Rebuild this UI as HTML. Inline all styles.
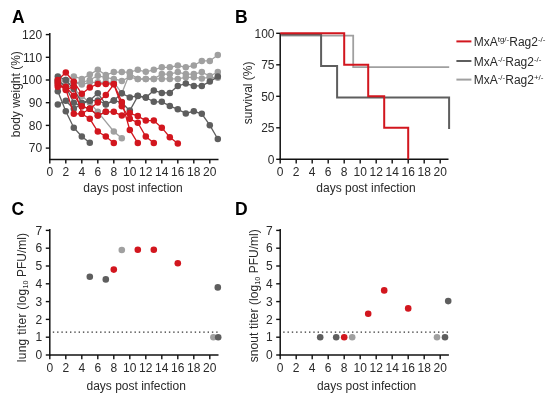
<!DOCTYPE html>
<html><head><meta charset="utf-8"><style>
html,body{margin:0;padding:0;background:#fff;width:550px;height:399px;overflow:hidden}
svg{display:block;font-family:"Liberation Sans",sans-serif;will-change:transform}
</style></head><body>
<svg width="550" height="399" viewBox="0 0 550 399">
<rect width="550" height="399" fill="#fff"/>
<line x1="49.8" y1="33.0" x2="49.8" y2="159.9" stroke="#111" stroke-width="1.5"/>
<line x1="49.05" y1="159.4" x2="218.5" y2="159.4" stroke="#111" stroke-width="1.5"/>
<line x1="45.8" y1="148.1" x2="49.8" y2="148.1" stroke="#111" stroke-width="1.4"/>
<text x="42.1" y="152.29999999999998" text-anchor="end" font-size="12" font-weight="normal" fill="#2a2a2a" >70</text>
<line x1="45.8" y1="125.4" x2="49.8" y2="125.4" stroke="#111" stroke-width="1.4"/>
<text x="42.1" y="129.6" text-anchor="end" font-size="12" font-weight="normal" fill="#2a2a2a" >80</text>
<line x1="45.8" y1="102.7" x2="49.8" y2="102.7" stroke="#111" stroke-width="1.4"/>
<text x="42.1" y="106.9" text-anchor="end" font-size="12" font-weight="normal" fill="#2a2a2a" >90</text>
<line x1="45.8" y1="80.0" x2="49.8" y2="80.0" stroke="#111" stroke-width="1.4"/>
<text x="42.1" y="84.2" text-anchor="end" font-size="12" font-weight="normal" fill="#2a2a2a" >100</text>
<line x1="45.8" y1="57.3" x2="49.8" y2="57.3" stroke="#111" stroke-width="1.4"/>
<text x="42.1" y="61.5" text-anchor="end" font-size="12" font-weight="normal" fill="#2a2a2a" >110</text>
<line x1="45.8" y1="34.6" x2="49.8" y2="34.6" stroke="#111" stroke-width="1.4"/>
<text x="42.1" y="38.800000000000004" text-anchor="end" font-size="12" font-weight="normal" fill="#2a2a2a" >120</text>
<line x1="49.8" y1="159.2" x2="49.8" y2="163.4" stroke="#111" stroke-width="1.4"/>
<text x="49.8" y="175.9" text-anchor="middle" font-size="12" font-weight="normal" fill="#2a2a2a" >0</text>
<line x1="65.8" y1="159.2" x2="65.8" y2="163.4" stroke="#111" stroke-width="1.4"/>
<text x="65.8" y="175.9" text-anchor="middle" font-size="12" font-weight="normal" fill="#2a2a2a" >2</text>
<line x1="81.8" y1="159.2" x2="81.8" y2="163.4" stroke="#111" stroke-width="1.4"/>
<text x="81.8" y="175.9" text-anchor="middle" font-size="12" font-weight="normal" fill="#2a2a2a" >4</text>
<line x1="97.8" y1="159.2" x2="97.8" y2="163.4" stroke="#111" stroke-width="1.4"/>
<text x="97.8" y="175.9" text-anchor="middle" font-size="12" font-weight="normal" fill="#2a2a2a" >6</text>
<line x1="113.8" y1="159.2" x2="113.8" y2="163.4" stroke="#111" stroke-width="1.4"/>
<text x="113.8" y="175.9" text-anchor="middle" font-size="12" font-weight="normal" fill="#2a2a2a" >8</text>
<line x1="129.8" y1="159.2" x2="129.8" y2="163.4" stroke="#111" stroke-width="1.4"/>
<text x="129.8" y="175.9" text-anchor="middle" font-size="12" font-weight="normal" fill="#2a2a2a" >10</text>
<line x1="145.8" y1="159.2" x2="145.8" y2="163.4" stroke="#111" stroke-width="1.4"/>
<text x="145.8" y="175.9" text-anchor="middle" font-size="12" font-weight="normal" fill="#2a2a2a" >12</text>
<line x1="161.8" y1="159.2" x2="161.8" y2="163.4" stroke="#111" stroke-width="1.4"/>
<text x="161.8" y="175.9" text-anchor="middle" font-size="12" font-weight="normal" fill="#2a2a2a" >14</text>
<line x1="177.8" y1="159.2" x2="177.8" y2="163.4" stroke="#111" stroke-width="1.4"/>
<text x="177.8" y="175.9" text-anchor="middle" font-size="12" font-weight="normal" fill="#2a2a2a" >16</text>
<line x1="193.8" y1="159.2" x2="193.8" y2="163.4" stroke="#111" stroke-width="1.4"/>
<text x="193.8" y="175.9" text-anchor="middle" font-size="12" font-weight="normal" fill="#2a2a2a" >18</text>
<line x1="209.8" y1="159.2" x2="209.8" y2="163.4" stroke="#111" stroke-width="1.4"/>
<text x="209.8" y="175.9" text-anchor="middle" font-size="12" font-weight="normal" fill="#2a2a2a" >20</text>
<text x="133.0" y="192.2" text-anchor="middle" font-size="12" font-weight="normal" fill="#2a2a2a" >days post infection</text>
<text x="19.8" y="137.2" text-anchor="start" font-size="12" font-weight="normal" fill="#2a2a2a" transform="rotate(-90 19.8 137.2)">body weight (%)</text>
<text x="12.0" y="22.9" text-anchor="start" font-size="17.5" font-weight="bold" fill="#000" >A</text>
<polyline points="57.8,82.3 65.8,81.1 73.8,76.4 81.8,78.9 89.8,74.6 97.8,69.8 105.8,75.0 113.8,72.1 121.8,72.1 129.8,72.1 137.8,69.8 145.8,71.8 153.8,69.8 161.8,67.3 169.8,67.3 177.8,65.5 185.8,67.3 193.8,65.5 201.8,60.9 209.8,60.9 217.8,55.0" fill="none" stroke="#a0a0a0" stroke-width="1.3"/>
<circle cx="57.8" cy="82.3" r="3.25" fill="#a0a0a0"/>
<circle cx="65.8" cy="81.1" r="3.25" fill="#a0a0a0"/>
<circle cx="73.8" cy="76.4" r="3.25" fill="#a0a0a0"/>
<circle cx="81.8" cy="78.9" r="3.25" fill="#a0a0a0"/>
<circle cx="89.8" cy="74.6" r="3.25" fill="#a0a0a0"/>
<circle cx="97.8" cy="69.8" r="3.25" fill="#a0a0a0"/>
<circle cx="105.8" cy="75.0" r="3.25" fill="#a0a0a0"/>
<circle cx="113.8" cy="72.1" r="3.25" fill="#a0a0a0"/>
<circle cx="121.8" cy="72.1" r="3.25" fill="#a0a0a0"/>
<circle cx="129.8" cy="72.1" r="3.25" fill="#a0a0a0"/>
<circle cx="137.8" cy="69.8" r="3.25" fill="#a0a0a0"/>
<circle cx="145.8" cy="71.8" r="3.25" fill="#a0a0a0"/>
<circle cx="153.8" cy="69.8" r="3.25" fill="#a0a0a0"/>
<circle cx="161.8" cy="67.3" r="3.25" fill="#a0a0a0"/>
<circle cx="169.8" cy="67.3" r="3.25" fill="#a0a0a0"/>
<circle cx="177.8" cy="65.5" r="3.25" fill="#a0a0a0"/>
<circle cx="185.8" cy="67.3" r="3.25" fill="#a0a0a0"/>
<circle cx="193.8" cy="65.5" r="3.25" fill="#a0a0a0"/>
<circle cx="201.8" cy="60.9" r="3.25" fill="#a0a0a0"/>
<circle cx="209.8" cy="60.9" r="3.25" fill="#a0a0a0"/>
<circle cx="217.8" cy="55.0" r="3.25" fill="#a0a0a0"/>
<polyline points="57.8,80.0 65.8,80.0 73.8,82.3 81.8,82.3 89.8,80.0 97.8,75.7 105.8,77.7 113.8,78.9 121.8,80.9 129.8,77.0 137.8,79.1 145.8,78.9 153.8,78.9 161.8,74.1 169.8,74.1 177.8,72.1 185.8,74.1 193.8,74.1 201.8,72.1 209.8,76.1 217.8,72.1" fill="none" stroke="#a0a0a0" stroke-width="1.3"/>
<circle cx="57.8" cy="80.0" r="3.25" fill="#a0a0a0"/>
<circle cx="65.8" cy="80.0" r="3.25" fill="#a0a0a0"/>
<circle cx="73.8" cy="82.3" r="3.25" fill="#a0a0a0"/>
<circle cx="81.8" cy="82.3" r="3.25" fill="#a0a0a0"/>
<circle cx="89.8" cy="80.0" r="3.25" fill="#a0a0a0"/>
<circle cx="97.8" cy="75.7" r="3.25" fill="#a0a0a0"/>
<circle cx="105.8" cy="77.7" r="3.25" fill="#a0a0a0"/>
<circle cx="113.8" cy="78.9" r="3.25" fill="#a0a0a0"/>
<circle cx="121.8" cy="80.9" r="3.25" fill="#a0a0a0"/>
<circle cx="129.8" cy="77.0" r="3.25" fill="#a0a0a0"/>
<circle cx="137.8" cy="79.1" r="3.25" fill="#a0a0a0"/>
<circle cx="145.8" cy="78.9" r="3.25" fill="#a0a0a0"/>
<circle cx="153.8" cy="78.9" r="3.25" fill="#a0a0a0"/>
<circle cx="161.8" cy="74.1" r="3.25" fill="#a0a0a0"/>
<circle cx="169.8" cy="74.1" r="3.25" fill="#a0a0a0"/>
<circle cx="177.8" cy="72.1" r="3.25" fill="#a0a0a0"/>
<circle cx="185.8" cy="74.1" r="3.25" fill="#a0a0a0"/>
<circle cx="193.8" cy="74.1" r="3.25" fill="#a0a0a0"/>
<circle cx="201.8" cy="72.1" r="3.25" fill="#a0a0a0"/>
<circle cx="209.8" cy="76.1" r="3.25" fill="#a0a0a0"/>
<circle cx="217.8" cy="72.1" r="3.25" fill="#a0a0a0"/>
<polyline points="57.8,84.5 65.8,84.5 73.8,82.3 81.8,84.5 89.8,82.3 97.8,82.3 105.8,82.3 113.8,82.3 121.8,93.2 129.8,73.2 137.8,79.1 145.8,78.9 153.8,78.9 161.8,78.9 169.8,78.9 177.8,78.9 185.8,77.3 193.8,77.3 201.8,78.4 209.8,77.3 217.8,77.7" fill="none" stroke="#a0a0a0" stroke-width="1.3"/>
<circle cx="57.8" cy="84.5" r="3.25" fill="#a0a0a0"/>
<circle cx="65.8" cy="84.5" r="3.25" fill="#a0a0a0"/>
<circle cx="73.8" cy="82.3" r="3.25" fill="#a0a0a0"/>
<circle cx="81.8" cy="84.5" r="3.25" fill="#a0a0a0"/>
<circle cx="89.8" cy="82.3" r="3.25" fill="#a0a0a0"/>
<circle cx="97.8" cy="82.3" r="3.25" fill="#a0a0a0"/>
<circle cx="105.8" cy="82.3" r="3.25" fill="#a0a0a0"/>
<circle cx="113.8" cy="82.3" r="3.25" fill="#a0a0a0"/>
<circle cx="121.8" cy="93.2" r="3.25" fill="#a0a0a0"/>
<circle cx="129.8" cy="73.2" r="3.25" fill="#a0a0a0"/>
<circle cx="137.8" cy="79.1" r="3.25" fill="#a0a0a0"/>
<circle cx="145.8" cy="78.9" r="3.25" fill="#a0a0a0"/>
<circle cx="153.8" cy="78.9" r="3.25" fill="#a0a0a0"/>
<circle cx="161.8" cy="78.9" r="3.25" fill="#a0a0a0"/>
<circle cx="169.8" cy="78.9" r="3.25" fill="#a0a0a0"/>
<circle cx="177.8" cy="78.9" r="3.25" fill="#a0a0a0"/>
<circle cx="185.8" cy="77.3" r="3.25" fill="#a0a0a0"/>
<circle cx="193.8" cy="77.3" r="3.25" fill="#a0a0a0"/>
<circle cx="201.8" cy="78.4" r="3.25" fill="#a0a0a0"/>
<circle cx="209.8" cy="77.3" r="3.25" fill="#a0a0a0"/>
<circle cx="217.8" cy="77.7" r="3.25" fill="#a0a0a0"/>
<polyline points="57.8,82.3 65.8,84.5 73.8,89.1 81.8,95.9 89.8,102.7 97.8,111.8 113.8,131.5 121.8,138.3" fill="none" stroke="#a0a0a0" stroke-width="1.3"/>
<circle cx="57.8" cy="82.3" r="3.25" fill="#a0a0a0"/>
<circle cx="65.8" cy="84.5" r="3.25" fill="#a0a0a0"/>
<circle cx="73.8" cy="89.1" r="3.25" fill="#a0a0a0"/>
<circle cx="81.8" cy="95.9" r="3.25" fill="#a0a0a0"/>
<circle cx="89.8" cy="102.7" r="3.25" fill="#a0a0a0"/>
<circle cx="97.8" cy="111.8" r="3.25" fill="#a0a0a0"/>
<circle cx="113.8" cy="131.5" r="3.25" fill="#a0a0a0"/>
<circle cx="121.8" cy="138.3" r="3.25" fill="#a0a0a0"/>
<polyline points="57.8,76.4 65.8,80.0 73.8,89.1 81.8,102.7 89.8,100.4 97.8,93.2 105.8,104.5 113.8,100.4 121.8,93.2 129.8,97.5 137.8,95.7 145.8,97.5 153.8,90.4 161.8,92.9 169.8,92.9 177.8,85.9 185.8,83.6 193.8,85.9 201.8,85.9 209.8,81.6 217.8,76.6" fill="none" stroke="#5e5e5e" stroke-width="1.3"/>
<circle cx="57.8" cy="76.4" r="3.25" fill="#5e5e5e"/>
<circle cx="65.8" cy="80.0" r="3.25" fill="#5e5e5e"/>
<circle cx="73.8" cy="89.1" r="3.25" fill="#5e5e5e"/>
<circle cx="81.8" cy="102.7" r="3.25" fill="#5e5e5e"/>
<circle cx="89.8" cy="100.4" r="3.25" fill="#5e5e5e"/>
<circle cx="97.8" cy="93.2" r="3.25" fill="#5e5e5e"/>
<circle cx="105.8" cy="104.5" r="3.25" fill="#5e5e5e"/>
<circle cx="113.8" cy="100.4" r="3.25" fill="#5e5e5e"/>
<circle cx="121.8" cy="93.2" r="3.25" fill="#5e5e5e"/>
<circle cx="129.8" cy="97.5" r="3.25" fill="#5e5e5e"/>
<circle cx="137.8" cy="95.7" r="3.25" fill="#5e5e5e"/>
<circle cx="145.8" cy="97.5" r="3.25" fill="#5e5e5e"/>
<circle cx="153.8" cy="90.4" r="3.25" fill="#5e5e5e"/>
<circle cx="161.8" cy="92.9" r="3.25" fill="#5e5e5e"/>
<circle cx="169.8" cy="92.9" r="3.25" fill="#5e5e5e"/>
<circle cx="177.8" cy="85.9" r="3.25" fill="#5e5e5e"/>
<circle cx="185.8" cy="83.6" r="3.25" fill="#5e5e5e"/>
<circle cx="193.8" cy="85.9" r="3.25" fill="#5e5e5e"/>
<circle cx="201.8" cy="85.9" r="3.25" fill="#5e5e5e"/>
<circle cx="209.8" cy="81.6" r="3.25" fill="#5e5e5e"/>
<circle cx="217.8" cy="76.6" r="3.25" fill="#5e5e5e"/>
<polyline points="57.8,104.5 65.8,100.7 73.8,108.8 81.8,103.8 89.8,100.7 97.8,100.4 105.8,104.1 113.8,100.4 121.8,102.7 129.8,110.6 137.8,96.1 145.8,97.5 153.8,101.8 161.8,101.8 169.8,105.9 177.8,109.3 185.8,113.4 193.8,111.3 201.8,113.8 209.8,125.2 217.8,139.0" fill="none" stroke="#5e5e5e" stroke-width="1.3"/>
<circle cx="57.8" cy="104.5" r="3.25" fill="#5e5e5e"/>
<circle cx="65.8" cy="100.7" r="3.25" fill="#5e5e5e"/>
<circle cx="73.8" cy="108.8" r="3.25" fill="#5e5e5e"/>
<circle cx="81.8" cy="103.8" r="3.25" fill="#5e5e5e"/>
<circle cx="89.8" cy="100.7" r="3.25" fill="#5e5e5e"/>
<circle cx="97.8" cy="100.4" r="3.25" fill="#5e5e5e"/>
<circle cx="105.8" cy="104.1" r="3.25" fill="#5e5e5e"/>
<circle cx="113.8" cy="100.4" r="3.25" fill="#5e5e5e"/>
<circle cx="121.8" cy="102.7" r="3.25" fill="#5e5e5e"/>
<circle cx="129.8" cy="110.6" r="3.25" fill="#5e5e5e"/>
<circle cx="137.8" cy="96.1" r="3.25" fill="#5e5e5e"/>
<circle cx="145.8" cy="97.5" r="3.25" fill="#5e5e5e"/>
<circle cx="153.8" cy="101.8" r="3.25" fill="#5e5e5e"/>
<circle cx="161.8" cy="101.8" r="3.25" fill="#5e5e5e"/>
<circle cx="169.8" cy="105.9" r="3.25" fill="#5e5e5e"/>
<circle cx="177.8" cy="109.3" r="3.25" fill="#5e5e5e"/>
<circle cx="185.8" cy="113.4" r="3.25" fill="#5e5e5e"/>
<circle cx="193.8" cy="111.3" r="3.25" fill="#5e5e5e"/>
<circle cx="201.8" cy="113.8" r="3.25" fill="#5e5e5e"/>
<circle cx="209.8" cy="125.2" r="3.25" fill="#5e5e5e"/>
<circle cx="217.8" cy="139.0" r="3.25" fill="#5e5e5e"/>
<polyline points="57.8,91.3 65.8,111.3 73.8,127.7 81.8,136.5 89.8,142.7" fill="none" stroke="#5e5e5e" stroke-width="1.3"/>
<circle cx="57.8" cy="91.3" r="3.25" fill="#5e5e5e"/>
<circle cx="65.8" cy="111.3" r="3.25" fill="#5e5e5e"/>
<circle cx="73.8" cy="127.7" r="3.25" fill="#5e5e5e"/>
<circle cx="81.8" cy="136.5" r="3.25" fill="#5e5e5e"/>
<circle cx="89.8" cy="142.7" r="3.25" fill="#5e5e5e"/>
<polyline points="57.8,80.0 65.8,86.8 73.8,102.7 81.8,106.3 89.8,108.8 97.8,115.6 105.8,111.8" fill="none" stroke="#5e5e5e" stroke-width="1.3"/>
<circle cx="57.8" cy="80.0" r="3.25" fill="#5e5e5e"/>
<circle cx="65.8" cy="86.8" r="3.25" fill="#5e5e5e"/>
<circle cx="73.8" cy="102.7" r="3.25" fill="#5e5e5e"/>
<circle cx="81.8" cy="106.3" r="3.25" fill="#5e5e5e"/>
<circle cx="89.8" cy="108.8" r="3.25" fill="#5e5e5e"/>
<circle cx="97.8" cy="115.6" r="3.25" fill="#5e5e5e"/>
<circle cx="105.8" cy="111.8" r="3.25" fill="#5e5e5e"/>
<polyline points="57.8,84.5 65.8,89.1 73.8,113.8 81.8,113.8 89.8,118.8 97.8,131.5 105.8,136.5 113.8,143.1" fill="none" stroke="#d2161e" stroke-width="1.3"/>
<circle cx="57.8" cy="84.5" r="3.25" fill="#d2161e"/>
<circle cx="65.8" cy="89.1" r="3.25" fill="#d2161e"/>
<circle cx="73.8" cy="113.8" r="3.25" fill="#d2161e"/>
<circle cx="81.8" cy="113.8" r="3.25" fill="#d2161e"/>
<circle cx="89.8" cy="118.8" r="3.25" fill="#d2161e"/>
<circle cx="97.8" cy="131.5" r="3.25" fill="#d2161e"/>
<circle cx="105.8" cy="136.5" r="3.25" fill="#d2161e"/>
<circle cx="113.8" cy="143.1" r="3.25" fill="#d2161e"/>
<polyline points="57.8,80.0 65.8,72.5 73.8,81.8 81.8,93.8 89.8,87.5 97.8,83.9 105.8,83.9 113.8,83.9 121.8,102.0 129.8,129.9 137.8,143.1" fill="none" stroke="#d2161e" stroke-width="1.3"/>
<circle cx="57.8" cy="80.0" r="3.25" fill="#d2161e"/>
<circle cx="65.8" cy="72.5" r="3.25" fill="#d2161e"/>
<circle cx="73.8" cy="81.8" r="3.25" fill="#d2161e"/>
<circle cx="81.8" cy="93.8" r="3.25" fill="#d2161e"/>
<circle cx="89.8" cy="87.5" r="3.25" fill="#d2161e"/>
<circle cx="97.8" cy="83.9" r="3.25" fill="#d2161e"/>
<circle cx="105.8" cy="83.9" r="3.25" fill="#d2161e"/>
<circle cx="113.8" cy="83.9" r="3.25" fill="#d2161e"/>
<circle cx="121.8" cy="102.0" r="3.25" fill="#d2161e"/>
<circle cx="129.8" cy="129.9" r="3.25" fill="#d2161e"/>
<circle cx="137.8" cy="143.1" r="3.25" fill="#d2161e"/>
<polyline points="57.8,86.8 65.8,86.8 73.8,95.7 81.8,106.3 89.8,108.8 97.8,102.5 105.8,95.0 113.8,84.3 121.8,106.3 129.8,118.8 137.8,122.7 145.8,136.5 153.8,143.1" fill="none" stroke="#d2161e" stroke-width="1.3"/>
<circle cx="57.8" cy="86.8" r="3.25" fill="#d2161e"/>
<circle cx="65.8" cy="86.8" r="3.25" fill="#d2161e"/>
<circle cx="73.8" cy="95.7" r="3.25" fill="#d2161e"/>
<circle cx="81.8" cy="106.3" r="3.25" fill="#d2161e"/>
<circle cx="89.8" cy="108.8" r="3.25" fill="#d2161e"/>
<circle cx="97.8" cy="102.5" r="3.25" fill="#d2161e"/>
<circle cx="105.8" cy="95.0" r="3.25" fill="#d2161e"/>
<circle cx="113.8" cy="84.3" r="3.25" fill="#d2161e"/>
<circle cx="121.8" cy="106.3" r="3.25" fill="#d2161e"/>
<circle cx="129.8" cy="118.8" r="3.25" fill="#d2161e"/>
<circle cx="137.8" cy="122.7" r="3.25" fill="#d2161e"/>
<circle cx="145.8" cy="136.5" r="3.25" fill="#d2161e"/>
<circle cx="153.8" cy="143.1" r="3.25" fill="#d2161e"/>
<polyline points="57.8,82.3 65.8,90.0 73.8,86.4 81.8,113.8 89.8,108.8 97.8,115.6 105.8,111.8 113.8,111.8 121.8,115.6 129.8,113.1 137.8,116.1 145.8,120.6 153.8,120.6 161.8,127.7 169.8,137.2 177.8,143.6" fill="none" stroke="#d2161e" stroke-width="1.3"/>
<circle cx="57.8" cy="82.3" r="3.25" fill="#d2161e"/>
<circle cx="65.8" cy="90.0" r="3.25" fill="#d2161e"/>
<circle cx="73.8" cy="86.4" r="3.25" fill="#d2161e"/>
<circle cx="81.8" cy="113.8" r="3.25" fill="#d2161e"/>
<circle cx="89.8" cy="108.8" r="3.25" fill="#d2161e"/>
<circle cx="97.8" cy="115.6" r="3.25" fill="#d2161e"/>
<circle cx="105.8" cy="111.8" r="3.25" fill="#d2161e"/>
<circle cx="113.8" cy="111.8" r="3.25" fill="#d2161e"/>
<circle cx="121.8" cy="115.6" r="3.25" fill="#d2161e"/>
<circle cx="129.8" cy="113.1" r="3.25" fill="#d2161e"/>
<circle cx="137.8" cy="116.1" r="3.25" fill="#d2161e"/>
<circle cx="145.8" cy="120.6" r="3.25" fill="#d2161e"/>
<circle cx="153.8" cy="120.6" r="3.25" fill="#d2161e"/>
<circle cx="161.8" cy="127.7" r="3.25" fill="#d2161e"/>
<circle cx="169.8" cy="137.2" r="3.25" fill="#d2161e"/>
<circle cx="177.8" cy="143.6" r="3.25" fill="#d2161e"/>
<line x1="280.2" y1="33.0" x2="280.2" y2="159.9" stroke="#111" stroke-width="1.5"/>
<line x1="279.45" y1="159.2" x2="448.5" y2="159.2" stroke="#111" stroke-width="1.5"/>
<line x1="276.2" y1="159.3" x2="280.2" y2="159.3" stroke="#111" stroke-width="1.4"/>
<text x="274.5" y="163.5" text-anchor="end" font-size="12" font-weight="normal" fill="#2a2a2a" >0</text>
<line x1="276.2" y1="127.80000000000001" x2="280.2" y2="127.80000000000001" stroke="#111" stroke-width="1.4"/>
<text x="274.5" y="132.0" text-anchor="end" font-size="12" font-weight="normal" fill="#2a2a2a" >25</text>
<line x1="276.2" y1="96.30000000000001" x2="280.2" y2="96.30000000000001" stroke="#111" stroke-width="1.4"/>
<text x="274.5" y="100.50000000000001" text-anchor="end" font-size="12" font-weight="normal" fill="#2a2a2a" >50</text>
<line x1="276.2" y1="64.80000000000001" x2="280.2" y2="64.80000000000001" stroke="#111" stroke-width="1.4"/>
<text x="274.5" y="69.00000000000001" text-anchor="end" font-size="12" font-weight="normal" fill="#2a2a2a" >75</text>
<line x1="276.2" y1="33.30000000000001" x2="280.2" y2="33.30000000000001" stroke="#111" stroke-width="1.4"/>
<text x="274.5" y="37.500000000000014" text-anchor="end" font-size="12" font-weight="normal" fill="#2a2a2a" >100</text>
<line x1="280.2" y1="159.2" x2="280.2" y2="163.4" stroke="#111" stroke-width="1.4"/>
<text x="280.2" y="175.9" text-anchor="middle" font-size="12" font-weight="normal" fill="#2a2a2a" >0</text>
<line x1="296.2" y1="159.2" x2="296.2" y2="163.4" stroke="#111" stroke-width="1.4"/>
<text x="296.2" y="175.9" text-anchor="middle" font-size="12" font-weight="normal" fill="#2a2a2a" >2</text>
<line x1="312.2" y1="159.2" x2="312.2" y2="163.4" stroke="#111" stroke-width="1.4"/>
<text x="312.2" y="175.9" text-anchor="middle" font-size="12" font-weight="normal" fill="#2a2a2a" >4</text>
<line x1="328.2" y1="159.2" x2="328.2" y2="163.4" stroke="#111" stroke-width="1.4"/>
<text x="328.2" y="175.9" text-anchor="middle" font-size="12" font-weight="normal" fill="#2a2a2a" >6</text>
<line x1="344.2" y1="159.2" x2="344.2" y2="163.4" stroke="#111" stroke-width="1.4"/>
<text x="344.2" y="175.9" text-anchor="middle" font-size="12" font-weight="normal" fill="#2a2a2a" >8</text>
<line x1="360.2" y1="159.2" x2="360.2" y2="163.4" stroke="#111" stroke-width="1.4"/>
<text x="360.2" y="175.9" text-anchor="middle" font-size="12" font-weight="normal" fill="#2a2a2a" >10</text>
<line x1="376.2" y1="159.2" x2="376.2" y2="163.4" stroke="#111" stroke-width="1.4"/>
<text x="376.2" y="175.9" text-anchor="middle" font-size="12" font-weight="normal" fill="#2a2a2a" >12</text>
<line x1="392.2" y1="159.2" x2="392.2" y2="163.4" stroke="#111" stroke-width="1.4"/>
<text x="392.2" y="175.9" text-anchor="middle" font-size="12" font-weight="normal" fill="#2a2a2a" >14</text>
<line x1="408.2" y1="159.2" x2="408.2" y2="163.4" stroke="#111" stroke-width="1.4"/>
<text x="408.2" y="175.9" text-anchor="middle" font-size="12" font-weight="normal" fill="#2a2a2a" >16</text>
<line x1="424.2" y1="159.2" x2="424.2" y2="163.4" stroke="#111" stroke-width="1.4"/>
<text x="424.2" y="175.9" text-anchor="middle" font-size="12" font-weight="normal" fill="#2a2a2a" >18</text>
<line x1="440.2" y1="159.2" x2="440.2" y2="163.4" stroke="#111" stroke-width="1.4"/>
<text x="440.2" y="175.9" text-anchor="middle" font-size="12" font-weight="normal" fill="#2a2a2a" >20</text>
<text x="366.0" y="192.2" text-anchor="middle" font-size="12" font-weight="normal" fill="#2a2a2a" >days post infection</text>
<text x="252.0" y="124.2" text-anchor="start" font-size="12" font-weight="normal" fill="#2a2a2a" transform="rotate(-90 252.0 124.2)" xml:space="preserve">survival (%)</text>
<text x="235.0" y="23.3" text-anchor="start" font-size="17.5" font-weight="bold" fill="#000" >B</text>
<polyline transform="translate(1,2.4)" points="280.2,33.3 352.2,33.3 352.2,64.8 448.2,64.8" fill="none" stroke="#a0a0a0" stroke-width="1.8"/>
<polyline transform="translate(0.9,1.3)" points="280.2,33.3 320.2,33.3 320.2,64.8 336.2,64.8 336.2,96.3 448.2,96.3 448.2,127.8" fill="none" stroke="#5e5e5e" stroke-width="2"/>
<polyline points="280.2,33.3 344.2,33.3 344.2,64.8 368.2,64.8 368.2,96.3 384.2,96.3 384.2,127.8 408.2,127.8 408.2,159.3" fill="none" stroke="#d2161e" stroke-width="2"/>
<line x1="456.4" y1="41.4" x2="471.4" y2="41.4" stroke="#d2161e" stroke-width="2"/>
<text x="473.7" y="46.0" font-size="12" fill="#2a2a2a">MxA<tspan font-size="8" dy="-4">tg/-</tspan><tspan dy="4">Rag2</tspan><tspan font-size="8" dy="-4">-/-</tspan></text>
<line x1="456.4" y1="61.0" x2="471.4" y2="61.0" stroke="#5e5e5e" stroke-width="2"/>
<text x="473.7" y="65.6" font-size="12" fill="#2a2a2a">MxA<tspan font-size="8" dy="-4">-/-</tspan><tspan dy="4">Rag2</tspan><tspan font-size="8" dy="-4">-/-</tspan></text>
<line x1="456.4" y1="79.6" x2="471.4" y2="79.6" stroke="#a0a0a0" stroke-width="2"/>
<text x="473.7" y="84.19999999999999" font-size="12" fill="#2a2a2a">MxA<tspan font-size="8" dy="-4">-/-</tspan><tspan dy="4">Rag2</tspan><tspan font-size="8" dy="-4">+/-</tspan></text>
<line x1="49.8" y1="229.0" x2="49.8" y2="355.7" stroke="#111" stroke-width="1.5"/>
<line x1="49.05" y1="355.0" x2="218.5" y2="355.0" stroke="#111" stroke-width="1.5"/>
<line x1="45.8" y1="355.0" x2="49.8" y2="355.0" stroke="#111" stroke-width="1.4"/>
<text x="42.3" y="359.2" text-anchor="end" font-size="12" font-weight="normal" fill="#2a2a2a" >0</text>
<line x1="45.8" y1="337.2" x2="49.8" y2="337.2" stroke="#111" stroke-width="1.4"/>
<text x="42.3" y="341.4" text-anchor="end" font-size="12" font-weight="normal" fill="#2a2a2a" >1</text>
<line x1="45.8" y1="319.4" x2="49.8" y2="319.4" stroke="#111" stroke-width="1.4"/>
<text x="42.3" y="323.59999999999997" text-anchor="end" font-size="12" font-weight="normal" fill="#2a2a2a" >2</text>
<line x1="45.8" y1="301.6" x2="49.8" y2="301.6" stroke="#111" stroke-width="1.4"/>
<text x="42.3" y="305.8" text-anchor="end" font-size="12" font-weight="normal" fill="#2a2a2a" >3</text>
<line x1="45.8" y1="283.8" x2="49.8" y2="283.8" stroke="#111" stroke-width="1.4"/>
<text x="42.3" y="288.0" text-anchor="end" font-size="12" font-weight="normal" fill="#2a2a2a" >4</text>
<line x1="45.8" y1="266.0" x2="49.8" y2="266.0" stroke="#111" stroke-width="1.4"/>
<text x="42.3" y="270.2" text-anchor="end" font-size="12" font-weight="normal" fill="#2a2a2a" >5</text>
<line x1="45.8" y1="248.2" x2="49.8" y2="248.2" stroke="#111" stroke-width="1.4"/>
<text x="42.3" y="252.39999999999998" text-anchor="end" font-size="12" font-weight="normal" fill="#2a2a2a" >6</text>
<line x1="45.8" y1="230.39999999999998" x2="49.8" y2="230.39999999999998" stroke="#111" stroke-width="1.4"/>
<text x="42.3" y="234.59999999999997" text-anchor="end" font-size="12" font-weight="normal" fill="#2a2a2a" >7</text>
<line x1="49.8" y1="355.0" x2="49.8" y2="359.2" stroke="#111" stroke-width="1.4"/>
<text x="49.8" y="372.0" text-anchor="middle" font-size="12" font-weight="normal" fill="#2a2a2a" >0</text>
<line x1="65.8" y1="355.0" x2="65.8" y2="359.2" stroke="#111" stroke-width="1.4"/>
<text x="65.8" y="372.0" text-anchor="middle" font-size="12" font-weight="normal" fill="#2a2a2a" >2</text>
<line x1="81.8" y1="355.0" x2="81.8" y2="359.2" stroke="#111" stroke-width="1.4"/>
<text x="81.8" y="372.0" text-anchor="middle" font-size="12" font-weight="normal" fill="#2a2a2a" >4</text>
<line x1="97.8" y1="355.0" x2="97.8" y2="359.2" stroke="#111" stroke-width="1.4"/>
<text x="97.8" y="372.0" text-anchor="middle" font-size="12" font-weight="normal" fill="#2a2a2a" >6</text>
<line x1="113.8" y1="355.0" x2="113.8" y2="359.2" stroke="#111" stroke-width="1.4"/>
<text x="113.8" y="372.0" text-anchor="middle" font-size="12" font-weight="normal" fill="#2a2a2a" >8</text>
<line x1="129.8" y1="355.0" x2="129.8" y2="359.2" stroke="#111" stroke-width="1.4"/>
<text x="129.8" y="372.0" text-anchor="middle" font-size="12" font-weight="normal" fill="#2a2a2a" >10</text>
<line x1="145.8" y1="355.0" x2="145.8" y2="359.2" stroke="#111" stroke-width="1.4"/>
<text x="145.8" y="372.0" text-anchor="middle" font-size="12" font-weight="normal" fill="#2a2a2a" >12</text>
<line x1="161.8" y1="355.0" x2="161.8" y2="359.2" stroke="#111" stroke-width="1.4"/>
<text x="161.8" y="372.0" text-anchor="middle" font-size="12" font-weight="normal" fill="#2a2a2a" >14</text>
<line x1="177.8" y1="355.0" x2="177.8" y2="359.2" stroke="#111" stroke-width="1.4"/>
<text x="177.8" y="372.0" text-anchor="middle" font-size="12" font-weight="normal" fill="#2a2a2a" >16</text>
<line x1="193.8" y1="355.0" x2="193.8" y2="359.2" stroke="#111" stroke-width="1.4"/>
<text x="193.8" y="372.0" text-anchor="middle" font-size="12" font-weight="normal" fill="#2a2a2a" >18</text>
<line x1="209.8" y1="355.0" x2="209.8" y2="359.2" stroke="#111" stroke-width="1.4"/>
<text x="209.8" y="372.0" text-anchor="middle" font-size="12" font-weight="normal" fill="#2a2a2a" >20</text>
<text x="136.2" y="389.8" text-anchor="middle" font-size="12" font-weight="normal" fill="#2a2a2a" >days post infection</text>
<line x1="52.8" y1="332.1" x2="217.8" y2="332.1" stroke="#333" stroke-width="1.3" stroke-dasharray="1.4 2.9"/>
<text x="26.2" y="362.3" font-size="12" fill="#2a2a2a" transform="rotate(-90 26.2 362.3)"><tspan letter-spacing="0.3">lung titer (log</tspan><tspan font-size="7.2" dy="1.6">10</tspan><tspan dy="-1.6"> PFU/ml)</tspan></text>
<text x="11.5" y="214.5" text-anchor="start" font-size="17.5" font-weight="bold" fill="#000" >C</text>
<circle cx="89.8" cy="276.7" r="3.3" fill="#5e5e5e"/>
<circle cx="105.8" cy="279.4" r="3.3" fill="#5e5e5e"/>
<circle cx="113.8" cy="269.6" r="3.3" fill="#d2161e"/>
<circle cx="121.8" cy="250.0" r="3.3" fill="#a0a0a0"/>
<circle cx="137.8" cy="249.8" r="3.3" fill="#d2161e"/>
<circle cx="153.8" cy="249.8" r="3.3" fill="#d2161e"/>
<circle cx="177.8" cy="263.3" r="3.3" fill="#d2161e"/>
<circle cx="217.8" cy="287.4" r="3.3" fill="#5e5e5e"/>
<circle cx="213.4" cy="337.2" r="3.3" fill="#a0a0a0"/>
<circle cx="218.2" cy="337.2" r="3.3" fill="#5e5e5e"/>
<line x1="280.2" y1="229.0" x2="280.2" y2="355.7" stroke="#111" stroke-width="1.5"/>
<line x1="279.45" y1="355.0" x2="448.9" y2="355.0" stroke="#111" stroke-width="1.5"/>
<line x1="276.2" y1="355.0" x2="280.2" y2="355.0" stroke="#111" stroke-width="1.4"/>
<text x="272.7" y="359.2" text-anchor="end" font-size="12" font-weight="normal" fill="#2a2a2a" >0</text>
<line x1="276.2" y1="337.2" x2="280.2" y2="337.2" stroke="#111" stroke-width="1.4"/>
<text x="272.7" y="341.4" text-anchor="end" font-size="12" font-weight="normal" fill="#2a2a2a" >1</text>
<line x1="276.2" y1="319.4" x2="280.2" y2="319.4" stroke="#111" stroke-width="1.4"/>
<text x="272.7" y="323.59999999999997" text-anchor="end" font-size="12" font-weight="normal" fill="#2a2a2a" >2</text>
<line x1="276.2" y1="301.6" x2="280.2" y2="301.6" stroke="#111" stroke-width="1.4"/>
<text x="272.7" y="305.8" text-anchor="end" font-size="12" font-weight="normal" fill="#2a2a2a" >3</text>
<line x1="276.2" y1="283.8" x2="280.2" y2="283.8" stroke="#111" stroke-width="1.4"/>
<text x="272.7" y="288.0" text-anchor="end" font-size="12" font-weight="normal" fill="#2a2a2a" >4</text>
<line x1="276.2" y1="266.0" x2="280.2" y2="266.0" stroke="#111" stroke-width="1.4"/>
<text x="272.7" y="270.2" text-anchor="end" font-size="12" font-weight="normal" fill="#2a2a2a" >5</text>
<line x1="276.2" y1="248.2" x2="280.2" y2="248.2" stroke="#111" stroke-width="1.4"/>
<text x="272.7" y="252.39999999999998" text-anchor="end" font-size="12" font-weight="normal" fill="#2a2a2a" >6</text>
<line x1="276.2" y1="230.39999999999998" x2="280.2" y2="230.39999999999998" stroke="#111" stroke-width="1.4"/>
<text x="272.7" y="234.59999999999997" text-anchor="end" font-size="12" font-weight="normal" fill="#2a2a2a" >7</text>
<line x1="280.2" y1="355.0" x2="280.2" y2="359.2" stroke="#111" stroke-width="1.4"/>
<text x="280.2" y="372.0" text-anchor="middle" font-size="12" font-weight="normal" fill="#2a2a2a" >0</text>
<line x1="296.2" y1="355.0" x2="296.2" y2="359.2" stroke="#111" stroke-width="1.4"/>
<text x="296.2" y="372.0" text-anchor="middle" font-size="12" font-weight="normal" fill="#2a2a2a" >2</text>
<line x1="312.2" y1="355.0" x2="312.2" y2="359.2" stroke="#111" stroke-width="1.4"/>
<text x="312.2" y="372.0" text-anchor="middle" font-size="12" font-weight="normal" fill="#2a2a2a" >4</text>
<line x1="328.2" y1="355.0" x2="328.2" y2="359.2" stroke="#111" stroke-width="1.4"/>
<text x="328.2" y="372.0" text-anchor="middle" font-size="12" font-weight="normal" fill="#2a2a2a" >6</text>
<line x1="344.2" y1="355.0" x2="344.2" y2="359.2" stroke="#111" stroke-width="1.4"/>
<text x="344.2" y="372.0" text-anchor="middle" font-size="12" font-weight="normal" fill="#2a2a2a" >8</text>
<line x1="360.2" y1="355.0" x2="360.2" y2="359.2" stroke="#111" stroke-width="1.4"/>
<text x="360.2" y="372.0" text-anchor="middle" font-size="12" font-weight="normal" fill="#2a2a2a" >10</text>
<line x1="376.2" y1="355.0" x2="376.2" y2="359.2" stroke="#111" stroke-width="1.4"/>
<text x="376.2" y="372.0" text-anchor="middle" font-size="12" font-weight="normal" fill="#2a2a2a" >12</text>
<line x1="392.2" y1="355.0" x2="392.2" y2="359.2" stroke="#111" stroke-width="1.4"/>
<text x="392.2" y="372.0" text-anchor="middle" font-size="12" font-weight="normal" fill="#2a2a2a" >14</text>
<line x1="408.2" y1="355.0" x2="408.2" y2="359.2" stroke="#111" stroke-width="1.4"/>
<text x="408.2" y="372.0" text-anchor="middle" font-size="12" font-weight="normal" fill="#2a2a2a" >16</text>
<line x1="424.2" y1="355.0" x2="424.2" y2="359.2" stroke="#111" stroke-width="1.4"/>
<text x="424.2" y="372.0" text-anchor="middle" font-size="12" font-weight="normal" fill="#2a2a2a" >18</text>
<line x1="440.2" y1="355.0" x2="440.2" y2="359.2" stroke="#111" stroke-width="1.4"/>
<text x="440.2" y="372.0" text-anchor="middle" font-size="12" font-weight="normal" fill="#2a2a2a" >20</text>
<text x="366.6" y="389.8" text-anchor="middle" font-size="12" font-weight="normal" fill="#2a2a2a" >days post infection</text>
<line x1="283.2" y1="332.1" x2="448.2" y2="332.1" stroke="#333" stroke-width="1.3" stroke-dasharray="1.4 2.9"/>
<text x="258.2" y="362.3" font-size="12" fill="#2a2a2a" transform="rotate(-90 258.2 362.3)"><tspan letter-spacing="0.1">snout titer (log</tspan><tspan font-size="7.2" dy="1.6">10</tspan><tspan dy="-1.6"> PFU/ml)</tspan></text>
<text x="235.0" y="214.5" text-anchor="start" font-size="17.5" font-weight="bold" fill="#000" >D</text>
<circle cx="320.2" cy="337.2" r="3.3" fill="#5e5e5e"/>
<circle cx="336.2" cy="337.2" r="3.3" fill="#5e5e5e"/>
<circle cx="344.2" cy="337.2" r="3.3" fill="#d2161e"/>
<circle cx="352.2" cy="337.2" r="3.3" fill="#a0a0a0"/>
<circle cx="368.2" cy="313.7" r="3.3" fill="#d2161e"/>
<circle cx="384.2" cy="290.4" r="3.3" fill="#d2161e"/>
<circle cx="408.2" cy="308.4" r="3.3" fill="#d2161e"/>
<circle cx="448.2" cy="301.1" r="3.3" fill="#5e5e5e"/>
<circle cx="437.0" cy="337.2" r="3.3" fill="#a0a0a0"/>
<circle cx="445.0" cy="337.2" r="3.3" fill="#5e5e5e"/>
</svg>
</body></html>
